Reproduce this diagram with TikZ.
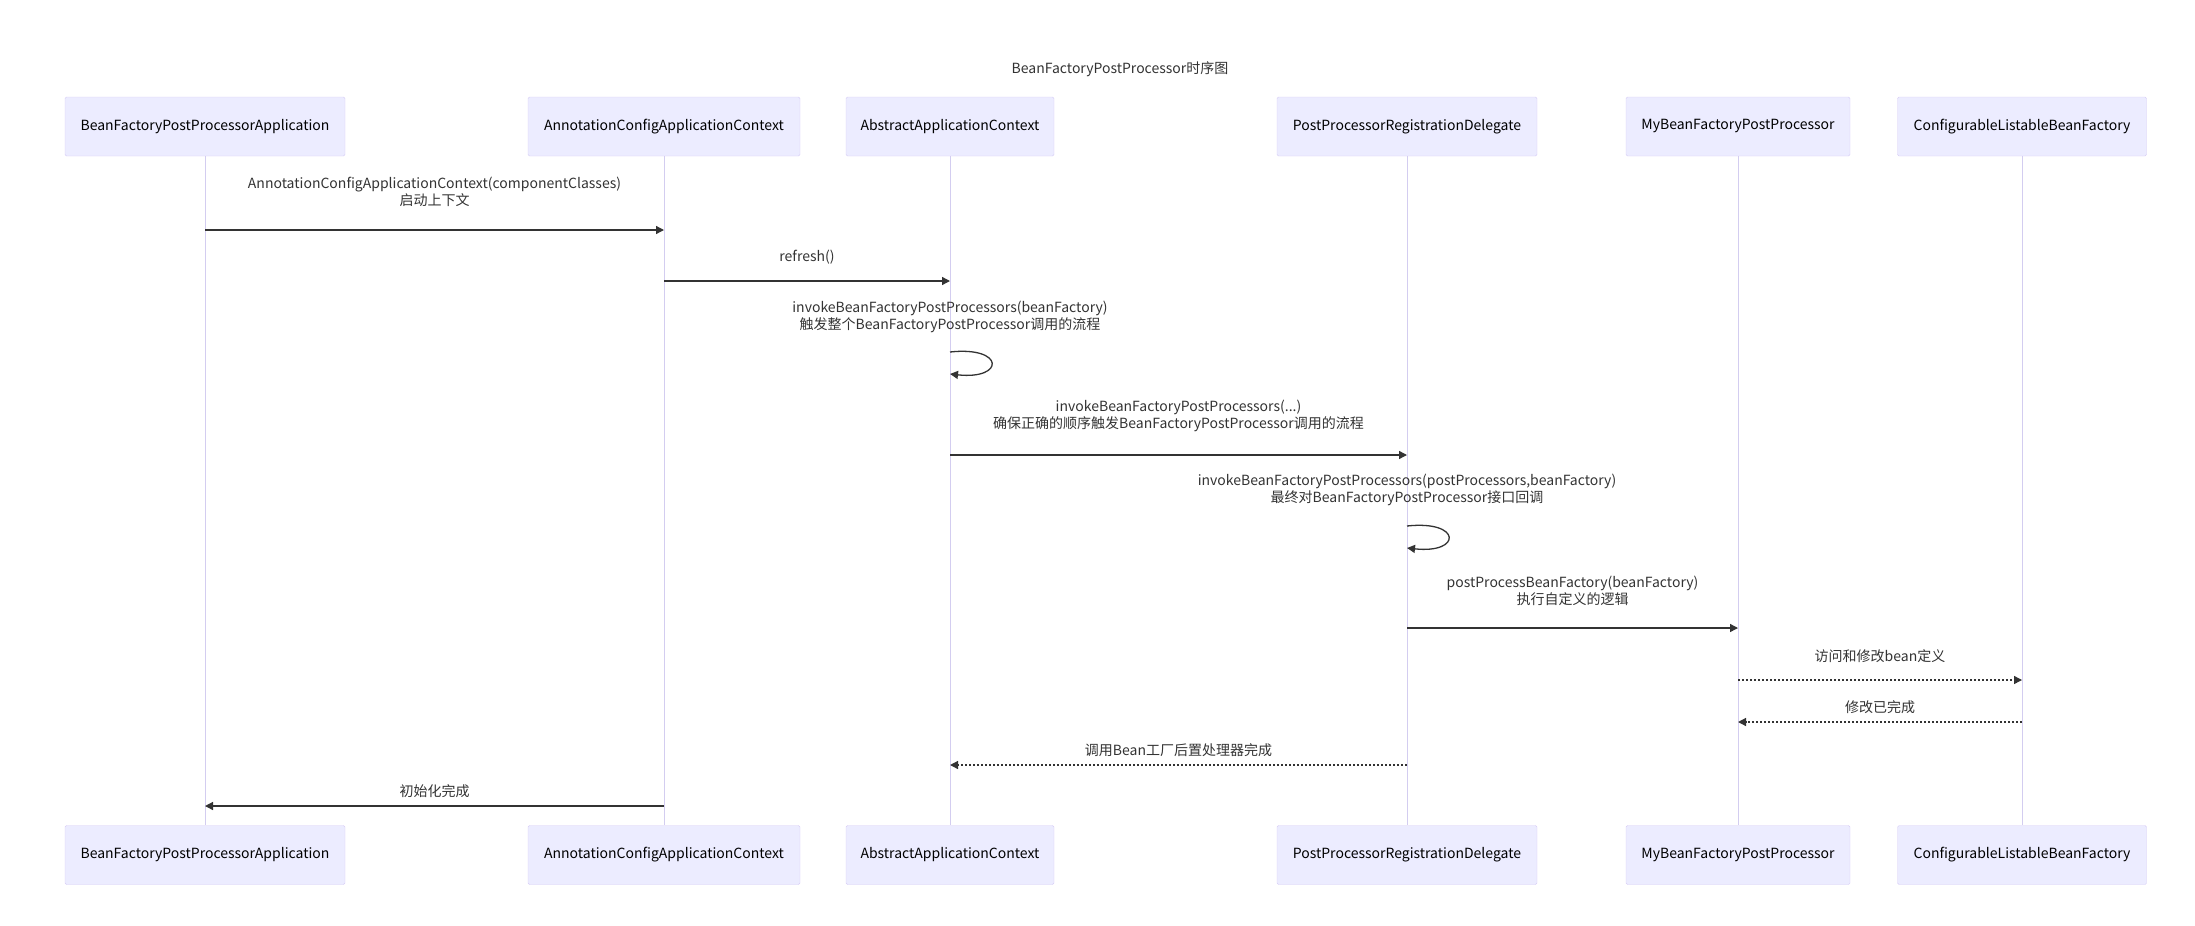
\documentclass[tikz,border=0pt]{standalone}
\usepackage{fontspec}
\setmainfont{Noto Sans CJK SC}
\usetikzlibrary{arrows.meta}
\definecolor{boxfill}{HTML}{ECECFF}
\definecolor{boxline}{HTML}{D6CCF5}
\definecolor{life}{HTML}{D3CDF0}
\definecolor{ink}{HTML}{333333}
\begin{document}
\begin{tikzpicture}[x=1pt,y=-1pt,
  actor/.style={draw=boxline,fill=boxfill,rounded corners=1.5pt,minimum height=59pt,inner sep=0pt,font=\fontsize{14}{14}\selectfont,text=black},
  lifeline/.style={draw=life,line width=1pt},
  msg/.style={draw=ink,line width=1.3pt,-{Triangle[length=8pt,width=8pt]}},
  ret/.style={msg,dash pattern=on 2pt off 2pt},
  lbl/.style={font=\fontsize{14}{17}\selectfont,align=center,text=ink}]
\useasboundingbox (0,0) rectangle (2195,926);
\node[lbl] (title) at (1120,69) {BeanFactoryPostProcessor时序图};
% actors top
\node[actor,minimum width=280pt] (a1) at (205,126.5) {BeanFactoryPostProcessorApplication};
\node[actor,minimum width=272pt] (a2) at (664,126.5) {AnnotationConfigApplicationContext};
\node[actor,minimum width=208pt] (a3) at (950,126.5) {AbstractApplicationContext};
\node[actor,minimum width=260pt] (a4) at (1407,126.5) {PostProcessorRegistrationDelegate};
\node[actor,minimum width=224pt] (a5) at (1738,126.5) {MyBeanFactoryPostProcessor};
\node[actor,minimum width=249pt] (a6) at (2022,126.5) {ConfigurableListableBeanFactory};
% actors bottom
\node[actor,minimum width=280pt] (b1) at (205,855) {BeanFactoryPostProcessorApplication};
\node[actor,minimum width=272pt] (b2) at (664,855) {AnnotationConfigApplicationContext};
\node[actor,minimum width=208pt] (b3) at (950,855) {AbstractApplicationContext};
\node[actor,minimum width=260pt] (b4) at (1407,855) {PostProcessorRegistrationDelegate};
\node[actor,minimum width=224pt] (b5) at (1738,855) {MyBeanFactoryPostProcessor};
\node[actor,minimum width=249pt] (b6) at (2022,855) {ConfigurableListableBeanFactory};
\foreach \i in {1,...,6} {\draw[lifeline] (a\i.south) -- (b\i.north);}
% coordinates on lifelines
\foreach \i/\x in {1/205,2/664,3/950,4/1407,5/1738,6/2022} {
  \foreach \y in {230,281,352,374,455,526,548,628,680,722,765,806} {
    \coordinate (p\i-\y) at (\x,\y);}}
% messages
\node[lbl] at (434.5,192) {AnnotationConfigApplicationContext(componentClasses)\\启动上下文};
\draw[msg] (p1-230) -- (p2-230);
\node[lbl] at (807,257) {refresh()};
\draw[msg] (p2-281) -- (p3-281);
\node[lbl] at (950,317) {invokeBeanFactoryPostProcessors(beanFactory)\\触发整个BeanFactoryPostProcessor调用的流程};
\draw[msg] (p3-352) .. controls +(55,-6) and +(55,6) .. (p3-374);
\node[lbl] at (1178.5,416) {invokeBeanFactoryPostProcessors(...)\\确保正确的顺序触发BeanFactoryPostProcessor调用的流程};
\draw[msg] (p3-455) -- (p4-455);
\node[lbl] at (1407,490) {invokeBeanFactoryPostProcessors(postProcessors,beanFactory)\\最终对BeanFactoryPostProcessor接口回调};
\draw[msg] (p4-526) .. controls +(55,-6) and +(55,6) .. (p4-548);
\node[lbl] at (1572.5,591) {postProcessBeanFactory(beanFactory)\\执行自定义的逻辑};
\draw[msg] (p4-628) -- (p5-628);
\node[lbl] at (1880,656) {访问和修改bean定义};
\draw[ret] (p5-680) -- (p6-680);
\node[lbl] at (1880,707) {修改已完成};
\draw[ret] (p6-722) -- (p5-722);
\node[lbl] at (1178.5,750) {调用Bean工厂后置处理器完成};
\draw[ret] (p4-765) -- (p3-765);
\node[lbl] at (434.5,791) {初始化完成};
\draw[msg] (p2-806) -- (p1-806);
\end{tikzpicture}
\end{document}
